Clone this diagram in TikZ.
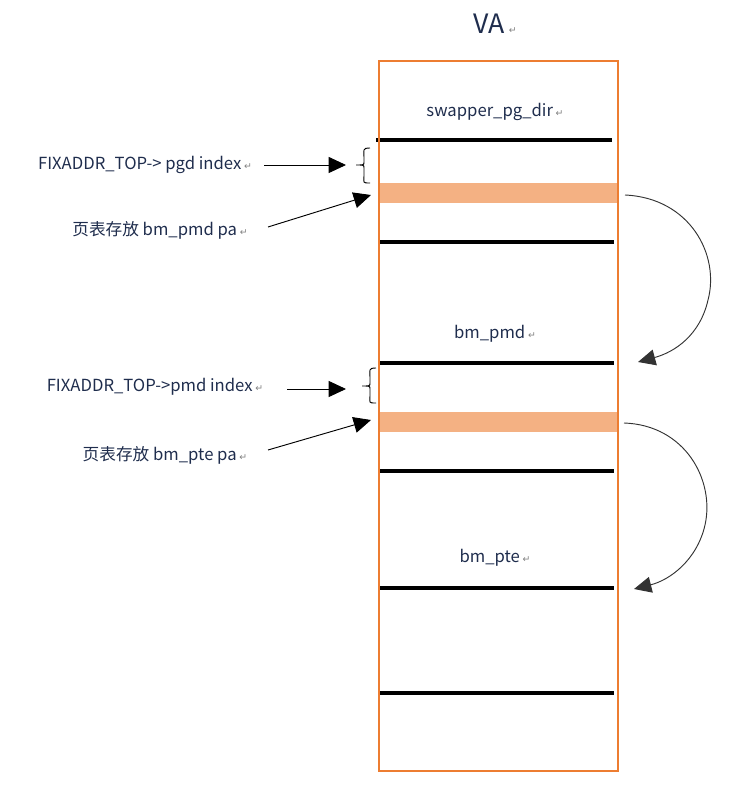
\documentclass[tikz,border=0pt]{standalone}
\usepackage{fontspec}
\setmainfont{Noto Sans CJK SC}
\newfontfamily\djfont{DejaVu Sans}
\usetikzlibrary{arrows.meta,decorations.pathreplacing}
\definecolor{txt}{HTML}{1F2D4D}
\definecolor{org}{HTML}{ED7D31}
\definecolor{band}{HTML}{F4B183}
\newcommand{\retmark}{\,{\djfont\scriptsize\color{gray}↵}}
\begin{document}
\begin{tikzpicture}[x=0.75pt,y=-0.75pt,
  lbl/.style={font=\fontsize{12.5}{15}\selectfont,text=txt,inner sep=0},
  sep/.style={line width=2.6pt},
  arr/.style={-{Triangle[width=12pt,length=13pt]},line width=0.7pt},
  carr/.style={-{Triangle[width=12pt,length=13pt]},line width=0.7pt,draw=black!80}]
\useasboundingbox (0,0) rectangle (750,787);
\fill[band] (379,183) rectangle (618,203);
\fill[band] (379,412) rectangle (618,432);
\draw[sep] (376,140) -- (612,140);
\foreach \y in {242,363,471,588,693} \draw[sep] (379,\y) -- (614,\y);
\draw[org,line width=2.2pt] (379,61) rectangle (618,771);
\node[lbl,font=\fontsize{20}{24}\selectfont] (va) at (495,24) {VA\retmark};
\node[lbl] (sw) at (495,112) {swapper\_pg\_dir\retmark};
\node[lbl] (pmd) at (495,334) {bm\_pmd\retmark};
\node[lbl] (pte) at (495,558) {bm\_pte\retmark};
\node[lbl] (l1) at (145,165) {FIXADDR\_TOP-> pgd index\retmark};
\node[lbl] (l2) at (160,230) {页表存放 bm\_pmd pa\retmark};
\node[lbl] (l3) at (155,387) {FIXADDR\_TOP->pmd index\retmark};
\node[lbl] (l4) at (165,455) {页表存放 bm\_pte pa\retmark};
\coordinate (b1) at (346,165); \coordinate (b2) at (346,389);
\coordinate (t1) at (371,195); \coordinate (t2) at (371,420);
\draw[arr] (264,165) -- (b1);
\draw[arr] (268,227) -- (t1);
\draw[arr] (287,389) -- (b2);
\draw[arr] (268,450) -- (t2);
\draw[line width=0.7pt] (370,148) .. controls (362,148) and (364,150) .. (364,158) -- (364,162) .. controls (364,165) .. (356,165) .. controls (364,165) .. (364,168) -- (364,175) .. controls (364,183) and (362,183) .. (370,183);
\draw[line width=0.7pt] (376,368) .. controls (368,368) and (370,370) .. (370,378) -- (370,383) .. controls (370,386) .. (362,386) .. controls (370,386) .. (370,389) -- (370,395) .. controls (370,403) and (368,403) .. (376,403);
\coordinate (s1) at (625,195); \coordinate (e1) at (638,362);
\coordinate (s2) at (624,423); \coordinate (e2) at (634,589);
\draw[carr] (s1) .. controls (690,198) and (720,255) .. (708,300) .. controls (700,335) and (675,352) .. (e1);
\draw[carr] (s2) .. controls (685,425) and (715,480) .. (705,525) .. controls (697,560) and (670,580) .. (e2);
\end{tikzpicture}
\end{document}
